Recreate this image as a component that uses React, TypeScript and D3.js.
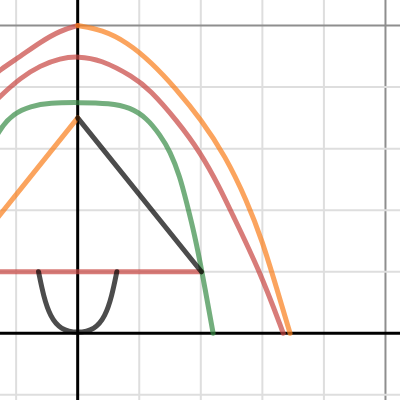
import * as d3 from 'd3';
import React from 'react';

// graph-space samples, [x, y]
const outerRed: [number, number][] = [
  [-1.45, 4.12], [-1.262, 4.28], [-0.93, 4.5], [-0.61, 4.73], [-0.28, 4.92], [0, 5]
];
const innerRed: [number, number][] = [
  [-1.45, 3.66], [-1.262, 3.85], [-0.93, 4.15], [-0.61, 4.35], [-0.28, 4.47], [0, 4.5],
  [0.37, 4.45], [0.9, 4.17], [1.17, 3.96], [1.61, 3.46], [2.0, 2.93],
  [2.31, 2.36], [2.48, 2.0], [2.96, 1.01], [3.34, 0]
];
const greenCurve: [number, number][] = [
  [-1.45, 2.95], [-1.262, 3.33], [-1.04, 3.57], [-0.77, 3.69], [-0.45, 3.745], [0, 3.75],
  [0.53, 3.74], [0.85, 3.67], [1.12, 3.5], [1.34, 3.22], [1.5, 2.96],
  [1.66, 2.55], [1.77, 2.12], [1.9, 1.6], [2.02, 1.0], [2.2, 0]
];
const orangeCurve: [number, number][] = [
  [0, 5], [0.4, 4.93], [0.8, 4.73], [1.2, 4.4], [1.6, 3.97], [2.0, 3.48],
  [2.4, 2.88], [2.75, 2.15], [3.0, 1.5], [3.23, 0.74], [3.45, 0]
];
const orangeLine: [number, number][] = [[-1.45, 1.69], [0, 3.5]];
const blackLine: [number, number][] = [[0, 3.5], [2.01, 1]];
const redLine: [number, number][] = [[-1.45, 1], [2.01, 1]];
const blackCup: [number, number][] = [
  [-0.636, 1], [-0.555, 0.6], [-0.446, 0.27], [-0.28, 0.06], [0, 0],
  [0.28, 0.06], [0.446, 0.27], [0.555, 0.6], [0.636, 1]
];

const gridX = [-1, 1, 2, 3, 4, 5];
const gridY = [-1, 1, 2, 3, 4, 5];

const W = 400;
const H = 400;

export default function App() {
  const x = d3.scaleLinear().domain([-1.262, 5.236]).range([0, W]);
  const y = d3.scaleLinear().domain([-1.084, 5.415]).range([H, 0]);

  // b-spline evens out the small reading errors in the samples
  const smooth = d3
    .line<[number, number]>()
    .x((d) => x(d[0]))
    .y((d) => y(d[1]))
    .curve(d3.curveBasis);
  const straight = d3
    .line<[number, number]>()
    .x((d) => x(d[0]))
    .y((d) => y(d[1]));

  // later entries sit on top, like the expression order in the picture
  const curves = [
    { d: straight(redLine), c: '#c74440' },
    { d: smooth(outerRed), c: '#c74440' },
    { d: smooth(innerRed), c: '#c74440' },
    { d: smooth(greenCurve), c: '#388c46' },
    { d: straight(orangeLine), c: '#fa7e19' },
    { d: smooth(orangeCurve), c: '#fa7e19' },
    { d: smooth(blackCup), c: '#000000' },
    { d: straight(blackLine), c: '#000000' }
  ];

  return (
    <svg
      width={W}
      height={H}
      style={{ position: 'absolute', left: 0, top: 0, background: '#fff' }}
    >
      {gridX.map((g) => (
        <line
          key={'gx' + g}
          x1={x(g)}
          x2={x(g)}
          y1={0}
          y2={H}
          stroke={g % 5 === 0 ? '#8e8e8e' : '#dedede'}
          strokeWidth={2}
        />
      ))}
      {gridY.map((g) => (
        <line
          key={'gy' + g}
          x1={0}
          x2={W}
          y1={y(g)}
          y2={y(g)}
          stroke={g % 5 === 0 ? '#8e8e8e' : '#dedede'}
          strokeWidth={2}
        />
      ))}
      <line x1={x(0)} x2={x(0)} y1={0} y2={H} stroke="#000" strokeWidth={3} />
      <line x1={0} x2={W} y1={y(0)} y2={y(0)} stroke="#000" strokeWidth={3} />
      {curves.map((p, i) => (
        <path
          key={i}
          d={p.d || ''}
          fill="none"
          stroke={p.c}
          strokeOpacity={0.7}
          strokeWidth={5}
          strokeLinecap="round"
          strokeLinejoin="round"
        />
      ))}
    </svg>
  );
}
